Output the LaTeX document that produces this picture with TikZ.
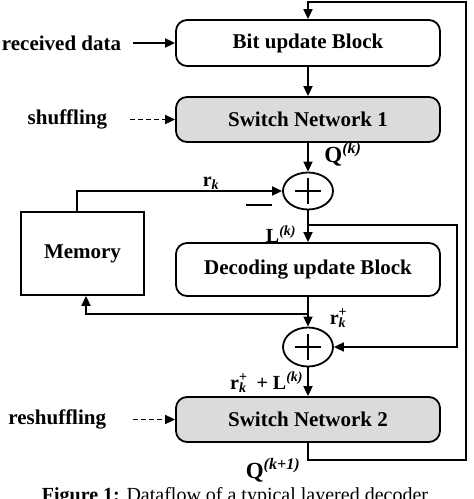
\documentclass[tikz,border=0pt]{standalone}
\usepackage{fontspec}
\setmainfont{Liberation Serif}
\usetikzlibrary{shapes.geometric,arrows.meta}
\begin{document}
\begin{tikzpicture}[x=1pt,y=-1pt,
  line width=1.8pt,
  arr/.style={-{Triangle[length=10pt,width=9pt]}},
  dsh/.style={arr,dash pattern=on 5pt off 3pt},
  blk/.style={draw,rounded corners=11pt,minimum width=264pt,inner sep=0pt,font=\fontsize{21}{24}\selectfont\bfseries},
  swb/.style={blk,fill=gray!28},
  adder/.style={draw,ellipse,inner sep=0pt},
  lbl/.style={font=\fontsize{21}{24}\selectfont\bfseries,inner sep=0pt},
  mlbl/.style={font=\fontsize{20}{24}\selectfont\bfseries,inner sep=0pt},
  qlbl/.style={font=\fontsize{23}{26}\selectfont\bfseries,inner sep=0pt}]
\useasboundingbox (0,0) rectangle (474,499);
\node[blk,minimum height=46pt] (bit) at (308,43) {Bit update Block};
\node[swb,minimum height=45pt] (sw1) at (308,119.5) {Switch Network 1};
\node[adder,minimum width=50pt,minimum height=37pt] (add1) at (308,191) {};
\draw[line width=1.5pt] (add1.center) ++(-13,0) -- ++(26,0) (add1.center) ++(0,-13) -- ++(0,26);
\node[draw,minimum width=123pt,minimum height=83pt,inner sep=0pt,font=\fontsize{21}{24}\selectfont\bfseries] (mem) at (82.5,253.5) {Memory};
\node[blk,minimum height=53pt] (dec) at (308,269.5) {Decoding update Block};
\node[adder,minimum width=50pt,minimum height=39pt] (add2) at (308,347) {};
\draw[line width=1.5pt] (add2.center) ++(-13,0) -- ++(26,0) (add2.center) ++(0,-13) -- ++(0,26);
\node[swb,minimum height=45pt] (sw2) at (308,419.5) {Switch Network 2};

% left inputs
\node[lbl,anchor=east] (rd) at (122,43) {received data};
\node[lbl,anchor=east] (sh) at (108,119) {shuffling};
\node[lbl,anchor=east] (rsh) at (107,419) {reshuffling};
\coordinate (rdS) at (133,43);
\coordinate (shS) at (130,119.5);
\coordinate (rshS) at (133,419.5);
\draw[arr] (rdS) -- (bit.west);
\draw[dsh] (shS) -- (sw1.west);
\draw[dsh] (rshS) -- (sw2.west);

% main flow
\draw[arr] (bit.south) -- (sw1.north);
\draw[arr] (sw1.south) -- (add1.north);
\draw[arr] (add1.south) -- (dec.north);
\draw[arr] (dec.south) -- (add2.north);
\draw[arr] (add2.south) -- (sw2.north);

% memory loops
\draw[arr] ([xshift=-5.5pt]mem.north) |- (add1.west);
\coordinate (b2) at (308,314);
\draw[arr] (b2) -| ([xshift=3.5pt]mem.south);
\coordinate (b1) at (308,225);
\draw[arr] (b1) -- (457,225) |- (add2.east);

% outer loop
\draw[arr] (sw2.south) -- (308,460) -- (466,460) -- (466,2) -- (308,2) -- (bit.north);

% labels
\node[qlbl] (q1) at (343,154) {Q\textsuperscript{\textit{(k)}}};
\node[mlbl] (rk) at (211,183) {r\textsubscript{\textit{k}}};
\draw[line width=1.8pt] (246,205) -- (272,205);
\node[mlbl] (lk) at (281,234) {L\textsuperscript{\textit{(k)}}};
\node[mlbl] (rkp) at (338,318) {r\rlap{\textsuperscript{+}}\textsubscript{\textit{k}}};
\node[mlbl,anchor=east] (sum) at (304,382) {r\rlap{\textsuperscript{+}}\textsubscript{\textit{k}}\ \ + L\textsuperscript{\textit{(k)}}};
\node[qlbl] (q2) at (273,470) {Q\textsuperscript{\textit{(k+1)}}};
\node[anchor=base,inner sep=0pt,font=\fontsize{20}{24}\selectfont] (cap) at (235,501) {\textbf{Figure 1:} Dataflow of a typical layered decoder};
\end{tikzpicture}
\end{document}
